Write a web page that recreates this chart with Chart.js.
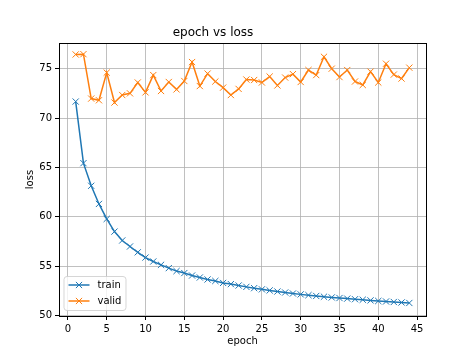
<!DOCTYPE html>
<html>
<head>
<meta charset="utf-8">
<script src="https://cdn.jsdelivr.net/npm/chart.js@4"></script>
<style>
html,body{margin:0;padding:0;background:#fff;}
canvas{display:block;}
</style>
</head>
<body>
<canvas id="c" width="474" height="355"></canvas>
<script>
const epochs = [1,2,3,4,5,6,7,8,9,10,11,12,13,14,15,16,17,18,19,20,21,22,23,24,25,26,27,28,29,30,31,32,33,34,35,36,37,38,39,40,41,42,43,44];
const trainLoss = [71.67,65.43,63.14,61.3,59.78,58.5,57.6,56.99,56.4,55.87,55.47,55.13,54.8,54.5,54.3,54.05,53.85,53.65,53.5,53.3,53.18,53.04,52.9,52.77,52.65,52.54,52.43,52.33,52.23,52.14,52.06,51.98,51.9,51.83,51.77,51.71,51.65,51.6,51.53,51.47,51.42,51.37,51.32,51.27];
const validLoss = [76.44,76.47,71.97,71.8,74.6,71.57,72.33,72.5,73.6,72.6,74.35,72.74,73.65,72.9,73.75,75.67,73.24,74.5,73.7,73.08,72.33,72.95,73.9,73.85,73.6,74.2,73.3,74.1,74.45,73.65,74.86,74.35,76.2,75.0,74.15,74.86,73.7,73.35,74.7,73.6,75.5,74.4,74.0,75.1];
const xTicks = [0,5,10,15,20,25,30,35,40,45];
const yTicks = [50,55,60,65,70,75];
const seriesNames = ['train','valid'];
const titleText = 'epoch vs loss';
const xLabel = 'epoch';
const yLabel = 'loss';

const FONT = "'DejaVu Sans', sans-serif";
const C1 = '#1f77b4', C2 = '#ff7f0e';

const frame = {
  id: 'frame',
  afterDatasetsDraw(chart) {
    const {ctx, chartArea: a} = chart;
    ctx.save();
    ctx.strokeStyle = '#000';
    ctx.lineWidth = 1;
    ctx.strokeRect(Math.round(a.left)+0.5, Math.round(a.top)+0.5, Math.round(a.right-a.left), Math.round(a.bottom-a.top));
    // legend
    const x0 = a.left + 5, y0 = a.bottom - 39.5, w = 62, h = 34;
    ctx.globalAlpha = 0.8;
    ctx.fillStyle = '#fff';
    ctx.strokeStyle = '#cccccc';
    ctx.lineWidth = 1;
    ctx.beginPath();
    ctx.roundRect(x0, y0, w, h, 3);
    ctx.fill(); ctx.stroke();
    ctx.globalAlpha = 1;
    chart.data.datasets.forEach((ds, i) => {
      const yy = y0 + 8.5 + i * 16;
      ctx.strokeStyle = ds.borderColor;
      ctx.lineWidth = 1.5;
      ctx.beginPath();
      ctx.moveTo(x0 + 4.5, yy); ctx.lineTo(x0 + 25.5, yy); ctx.stroke();
      const cx = x0 + 15, r = 3.1;
      ctx.lineWidth = 1;
      ctx.beginPath();
      ctx.moveTo(cx - r, yy - r); ctx.lineTo(cx + r, yy + r);
      ctx.moveTo(cx - r, yy + r); ctx.lineTo(cx + r, yy - r);
      ctx.stroke();
      ctx.fillStyle = '#000';
      ctx.font = '10px ' + FONT;
      ctx.textBaseline = 'middle';
      ctx.textAlign = 'left';
      ctx.fillText(ds.label, x0 + 33.5, yy);
    });
    ctx.restore();
  }
};

new Chart(document.getElementById('c'), {
  type: 'line',
  data: {
    labels: epochs,
    datasets: [
      {label: seriesNames[0], data: epochs.map((e,i)=>({x:e,y:trainLoss[i]})), borderColor: C1, backgroundColor: C1,
       borderWidth: 1.5, pointStyle: 'crossRot', pointRadius: 4.4, pointBorderWidth: 1, pointHoverRadius: 4.4, tension: 0},
      {label: seriesNames[1], data: epochs.map((e,i)=>({x:e,y:validLoss[i]})), borderColor: C2, backgroundColor: C2,
       borderWidth: 1.5, pointStyle: 'crossRot', pointRadius: 4.4, pointBorderWidth: 1, pointHoverRadius: 4.4, tension: 0}
    ]
  },
  options: {
    responsive: false,
    animation: false,
    events: [],
    layout: {padding: {left: 0, right: 48, top: 0, bottom: 0}},
    plugins: {
      legend: {display: false},
      tooltip: {enabled: false},
      title: {display: true, text: titleText, color: '#000', font: {family: FONT, size: 12, weight: 'normal', lineHeight: 1.2}, padding: {top: 25.5, bottom: 3.1}}
    },
    scales: {
      x: {
        type: 'linear', min: -1.15, max: 46.15,
        afterBuildTicks: s => { s.ticks = xTicks.map(v => ({value: v})); },
        afterFit: s => { s.height = 39; },
        ticks: {color: '#000', font: {family: FONT, size: 10}, padding: 3, maxRotation: 0, autoSkip: false},
        grid: {color: '#b0b0b0', lineWidth: 0.8, tickColor: '#000', tickLength: 4, tickWidth: 1},
        border: {display: true, color: '#000', width: 1},
        title: {display: true, text: xLabel, color: '#000', font: {family: FONT, size: 10}, padding: {top: 0, bottom: 7.5}}
      },
      y: {
        type: 'linear', min: 49.95, max: 77.6,
        afterBuildTicks: s => { s.ticks = yTicks.map(v => ({value: v})); },
        afterFit: s => { s.width = 59; },
        ticks: {color: '#000', font: {family: FONT, size: 10}, padding: 3, autoSkip: false},
        grid: {color: '#b0b0b0', lineWidth: 0.8, tickColor: '#000', tickLength: 4, tickWidth: 1},
        border: {display: true, color: '#000', width: 1},
        title: {display: true, text: yLabel, color: '#000', font: {family: FONT, size: 10}, padding: {top: 24, bottom: 0}}
      }
    }
  },
  plugins: [frame]
});
</script>
</body>
</html>
